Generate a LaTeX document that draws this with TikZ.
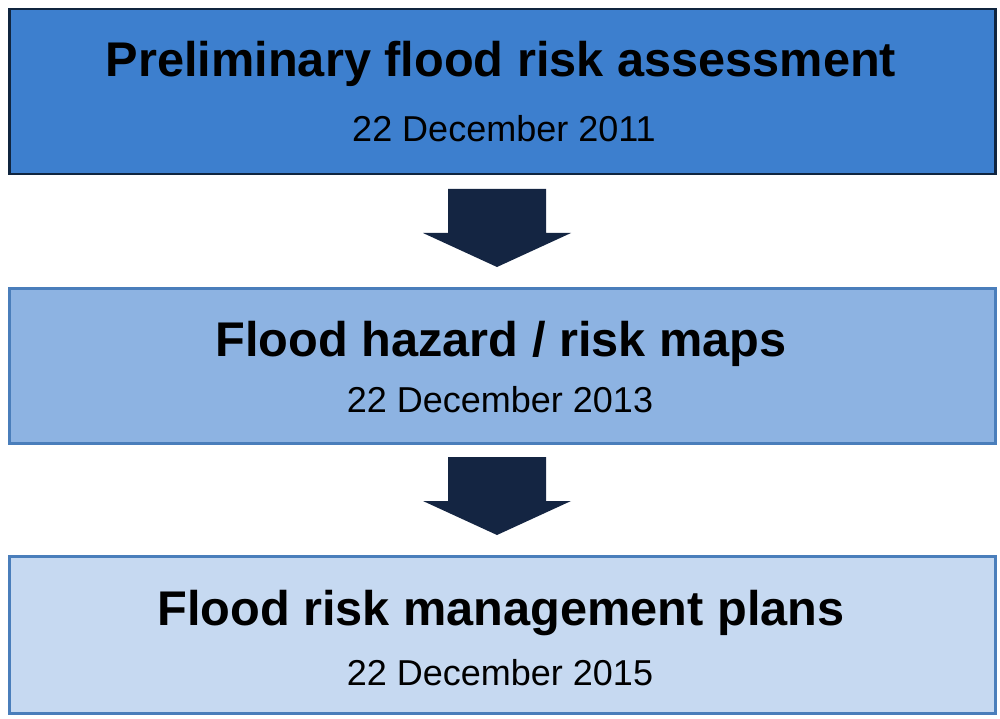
\documentclass[tikz,border=0pt]{standalone}
\usepackage{fontspec}
\setmainfont{Liberation Sans}
\usetikzlibrary{calc}
\begin{document}
\begin{tikzpicture}[x=1pt,y=-1pt,
  box/.style={draw, line width=2.5pt, inner sep=0pt, anchor=north west},
  titletext/.style={anchor=base, inner sep=0pt, font=\fontsize{48.7}{58}\selectfont\bfseries, text=black},
  datetext/.style={anchor=base, inner sep=0pt, font=\fontsize{36}{43}\selectfont, text=black},
  blockarrow/.style={fill=arrownavy, draw=none}]
\definecolor{boxone}{RGB}{61,127,206}
\definecolor{boxtwo}{RGB}{141,179,226}
\definecolor{boxthree}{RGB}{198,217,241}
\definecolor{borderone}{RGB}{16,37,63}
\definecolor{bordertwo}{RGB}{74,126,187}
\definecolor{arrownavy}{RGB}{20,37,66}
\useasboundingbox (0,0) rectangle (1000,719);
\fill[white] (0,0) rectangle (1000,719);
% boxes
\node[box, fill=boxone, draw=borderone, minimum width=986pt, minimum height=165pt] (b1) at (8,8) {};
\node[box, fill=boxtwo, draw=bordertwo, minimum width=986pt, minimum height=155pt] (b2) at (8,287) {};
\node[box, fill=boxthree, draw=bordertwo, minimum width=986pt, minimum height=157pt] (b3) at (8,555) {};
% texts
\node[titletext] (t1) at (501,77) {Preliminary flood risk assessment};
\node[datetext] (d1) at (504,142) {22 December 2011};
\node[titletext] (t2) at (501,356) {Flood hazard / risk maps};
\node[datetext] (d2) at (500,412) {22 December 2013};
\node[titletext] (t3) at (501,625) {Flood risk management plans};
\node[datetext] (d3) at (500,685) {22 December 2015};
% arrows
\coordinate (a1) at (497,189);
\fill[blockarrow] ($(a1)+(-49,0)$) -- ($(a1)+(49,0)$) -- ($(a1)+(49,44)$) -- ($(a1)+(74,44)$) -- ($(a1)+(0,78)$) -- ($(a1)+(-74,44)$) -- ($(a1)+(-49,44)$) -- cycle;
\coordinate (a2) at (497,457);
\fill[blockarrow] ($(a2)+(-49,0)$) -- ($(a2)+(49,0)$) -- ($(a2)+(49,44)$) -- ($(a2)+(74,44)$) -- ($(a2)+(0,78)$) -- ($(a2)+(-74,44)$) -- ($(a2)+(-49,44)$) -- cycle;
\end{tikzpicture}
\end{document}
